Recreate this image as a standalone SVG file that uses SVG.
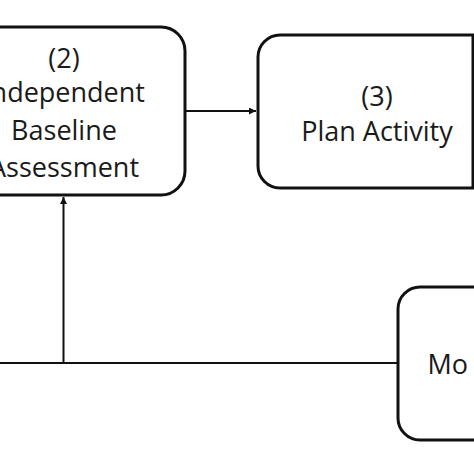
<svg xmlns="http://www.w3.org/2000/svg" width="474" height="474" viewBox="0 0 474 474">
<style>
.box{fill:#fff;stroke:#111;stroke-width:3}
.t{font-family:"Open Sans","Noto Sans",sans-serif;font-size:27px;fill:#1a1a1a;text-anchor:middle}
.c{fill:none;stroke:#111;stroke-width:2}
</style>
<defs>
<marker id="ah" viewBox="0 0 10 10" refX="10" refY="5" markerWidth="8" markerHeight="7" orient="auto" markerUnits="userSpaceOnUse">
<path d="M0,0 L10,5 L0,10 z" fill="#111"/>
</marker>
</defs>
<rect width="474" height="474" fill="#fff"/>
<g id="node2">
<rect class="box" x="-60" y="27" width="245" height="168" rx="24"/>
<text class="t" x="64" y="68">(2)</text>
<text class="t" x="64" y="102">Independent</text>
<text class="t" x="64" y="140">Baseline</text>
<text class="t" x="64" y="177">Assessment</text>
</g>
<g id="node3">
<path class="box" d="M473,35 L280,35 A22,22 0 0 0 258,57 L258,166 A22,22 0 0 0 280,188 L473,188 Z"/>
<text class="t" x="377" y="106">(3)</text>
<text class="t" x="377" y="141">Plan Activity</text>
</g>
<g id="node4">
<rect class="box" x="398" y="287" width="140" height="153" rx="22"/>
<text class="t" x="427.5" y="374" style="text-anchor:start">Mo</text>
</g>
<g id="connectors">
<line class="c" x1="185" y1="111" x2="256" y2="111" marker-end="url(#ah)"/>
<line class="c" x1="0" y1="363" x2="398" y2="363"/>
<line class="c" x1="63.5" y1="363" x2="63.5" y2="197" marker-end="url(#ah)"/>
</g>
</svg>
